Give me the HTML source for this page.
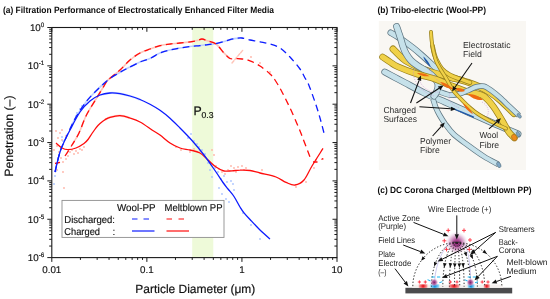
<!DOCTYPE html>
<html><head><meta charset="utf-8"><title>Filtration Performance of Electrostatically Enhanced Filter Media</title>
<style>
html,body{margin:0;padding:0;background:#fff;}
body{width:550px;height:299px;overflow:hidden;}
svg{display:block;}
text{font-family:"Liberation Sans",Arial,sans-serif;fill:#111;text-rendering:geometricPrecision;}
.b{font-weight:bold;font-size:9px;fill:#0d0d0d;}
.tk{font-size:9.8px;stroke:#111;stroke-width:0.15px;}
.sup{font-size:6.3px;}
.lab{font-size:12px;stroke:#111;stroke-width:0.18px;}
.lg{font-size:10px;stroke:#111;stroke-width:0.15px;}
.an{font-size:8.8px;fill:#222;}
</style></head><body>
<svg width="550" height="299" viewBox="0 0 550 299">
<rect width="550" height="299" fill="#fff"/>

<text class="b" x="3" y="12.8" textLength="271" lengthAdjust="spacingAndGlyphs">(a) Filtration Performance of Electrostatically Enhanced Filter Media</text>
<text class="b" x="377.5" y="12.8" textLength="108.5" lengthAdjust="spacingAndGlyphs">(b) Tribo-electric (Wool-PP)</text>
<text class="b" x="377.5" y="193" textLength="154" lengthAdjust="spacingAndGlyphs">(c) DC Corona Charged (Meltblown PP)</text>
<rect x="192.2" y="27.5" width="21.1" height="230.1" fill="#eefad9"/>
<g fill="none" stroke-linecap="round" stroke-linejoin="round">
<path d="M70.0,129.0 C71.0,127.0 73.3,121.5 76.0,117.0 C78.7,112.5 82.7,106.3 86.0,102.0 C89.3,97.7 92.3,94.7 96.0,91.0 C99.7,87.3 104.3,82.9 108.0,80.0 C111.7,77.1 115.0,75.3 118.0,73.5 C121.0,71.7 122.3,70.9 126.0,69.0 C129.7,67.1 136.0,63.8 140.0,62.0 C144.0,60.2 146.7,60.0 150.0,58.5 C153.3,57.0 156.7,54.4 160.0,53.0 C163.3,51.6 166.7,50.8 170.0,50.0 C173.3,49.2 176.7,48.6 180.0,48.0 C183.3,47.4 186.7,46.9 190.0,46.5 C193.3,46.1 197.0,45.9 200.0,45.6 C203.0,45.3 205.3,44.9 208.0,44.6 C210.7,44.3 213.3,44.1 216.0,43.6 C218.7,43.1 221.7,42.2 224.0,41.5 C226.3,40.8 228.0,40.1 230.0,39.6 C232.0,39.1 234.0,38.7 236.0,38.4 C238.0,38.1 241.0,38.1 242.0,38.0" stroke="#bcd0ff" stroke-width="1.6"/>
<path d="M72.0,145.0 C73.2,143.0 76.7,137.8 79.0,133.0 C81.3,128.2 83.2,121.7 86.0,116.0 C88.8,110.3 93.0,104.0 96.0,99.0 C99.0,94.0 102.0,89.2 104.0,86.0 C106.0,82.8 105.3,82.7 108.0,80.0 C110.7,77.3 116.3,73.3 120.0,70.0 C123.7,66.7 126.7,62.8 130.0,60.0 C133.3,57.2 136.7,54.8 140.0,53.0 C143.3,51.2 146.7,50.2 150.0,49.0 C153.3,47.8 156.7,46.4 160.0,45.6 C163.3,44.8 166.7,44.4 170.0,44.0 C173.3,43.6 176.3,43.4 180.0,43.0 C183.7,42.6 189.0,42.1 192.0,41.6 C195.0,41.1 196.3,40.7 198.0,40.3 C199.7,39.9 200.3,38.9 202.0,39.0 C203.7,39.1 205.7,40.2 208.0,41.0 C210.3,41.8 213.3,42.0 216.0,44.0 C218.7,46.0 221.7,50.6 224.0,53.0 C226.3,55.4 229.0,57.6 230.0,58.5" stroke="#ffc4b8" stroke-width="1.6"/>
<path d="M232,63 L237,57 L243,50" stroke="#ffc4b8" stroke-width="1.4" stroke-dasharray="3 1.5"/>
<path d="M100.0,95.0 C101.7,94.7 106.7,93.2 110.0,93.0 C113.3,92.8 116.7,93.1 120.0,93.6 C123.3,94.1 126.7,95.0 130.0,96.0 C133.3,97.0 138.3,98.9 140.0,99.5" stroke="#c6d6ff" stroke-width="2.2" opacity="0.8"/>
<path d="M105.0,119.7 C105.8,119.3 107.5,118.0 110.0,117.3 C112.5,116.6 116.7,115.5 120.0,115.6 C123.3,115.7 128.3,117.6 130.0,118.0" stroke="#ffc9c0" stroke-width="2.2" opacity="0.8"/>
</g>
<circle cx="56.0" cy="131.0" r="0.9" fill="#ffb3a6"/>
<circle cx="58.0" cy="138.0" r="0.9" fill="#ffb3a6"/>
<circle cx="60.0" cy="133.0" r="0.9" fill="#ffb3a6"/>
<circle cx="62.0" cy="130.0" r="0.9" fill="#ffb3a6"/>
<circle cx="57.0" cy="146.0" r="0.9" fill="#ffb3a6"/>
<circle cx="59.0" cy="152.0" r="0.9" fill="#ffb3a6"/>
<circle cx="61.0" cy="158.0" r="0.9" fill="#ffb3a6"/>
<circle cx="63.0" cy="162.0" r="0.9" fill="#ffb3a6"/>
<circle cx="66.0" cy="159.0" r="0.9" fill="#ffb3a6"/>
<circle cx="68.0" cy="156.0" r="0.9" fill="#ffb3a6"/>
<circle cx="70.0" cy="152.0" r="0.9" fill="#ffb3a6"/>
<circle cx="72.0" cy="150.0" r="0.9" fill="#ffb3a6"/>
<circle cx="74.0" cy="154.0" r="0.9" fill="#ffb3a6"/>
<circle cx="76.0" cy="151.0" r="0.9" fill="#ffb3a6"/>
<circle cx="78.0" cy="153.0" r="0.9" fill="#ffb3a6"/>
<circle cx="80.0" cy="149.0" r="0.9" fill="#ffb3a6"/>
<circle cx="82.0" cy="150.0" r="0.9" fill="#ffb3a6"/>
<circle cx="84.0" cy="147.0" r="0.9" fill="#ffb3a6"/>
<circle cx="63.0" cy="172.0" r="0.9" fill="#ffb3a6"/>
<circle cx="64.0" cy="188.0" r="0.9" fill="#ffb3a6"/>
<circle cx="54.0" cy="150.0" r="0.9" fill="#ffb3a6"/>
<circle cx="57.0" cy="170.0" r="0.9" fill="#ffb3a6"/>
<circle cx="62.0" cy="140.0" r="0.9" fill="#ffb3a6"/>
<circle cx="66.0" cy="136.0" r="0.9" fill="#ffb3a6"/>
<circle cx="176.0" cy="147.0" r="0.9" fill="#ffb3a6"/>
<circle cx="181.0" cy="150.0" r="0.9" fill="#ffb3a6"/>
<circle cx="190.0" cy="152.0" r="0.9" fill="#ffb3a6"/>
<circle cx="194.0" cy="149.0" r="0.9" fill="#ffb3a6"/>
<circle cx="200.0" cy="151.0" r="0.9" fill="#ffb3a6"/>
<circle cx="212.0" cy="150.0" r="0.9" fill="#ffb3a6"/>
<circle cx="214.0" cy="155.0" r="0.9" fill="#ffb3a6"/>
<circle cx="216.0" cy="166.0" r="0.9" fill="#ffb3a6"/>
<circle cx="219.0" cy="169.0" r="0.9" fill="#ffb3a6"/>
<circle cx="222.0" cy="172.0" r="0.9" fill="#ffb3a6"/>
<circle cx="225.0" cy="174.0" r="0.9" fill="#ffb3a6"/>
<circle cx="228.0" cy="170.0" r="0.9" fill="#ffb3a6"/>
<circle cx="231.0" cy="166.0" r="0.9" fill="#ffb3a6"/>
<circle cx="234.0" cy="168.0" r="0.9" fill="#ffb3a6"/>
<circle cx="238.0" cy="167.0" r="0.9" fill="#ffb3a6"/>
<circle cx="242.0" cy="166.0" r="0.9" fill="#ffb3a6"/>
<circle cx="246.0" cy="168.0" r="0.9" fill="#ffb3a6"/>
<circle cx="244.0" cy="170.0" r="0.9" fill="#ffb3a6"/>
<circle cx="236.0" cy="172.0" r="0.9" fill="#ffb3a6"/>
<circle cx="262.0" cy="170.0" r="0.9" fill="#ffb3a6"/>
<circle cx="296.0" cy="187.0" r="0.9" fill="#ffb3a6"/>
<circle cx="306.0" cy="182.0" r="0.9" fill="#ffb3a6"/>
<circle cx="314.0" cy="168.0" r="0.9" fill="#ffb3a6"/>
<circle cx="316.0" cy="160.0" r="0.9" fill="#ffb3a6"/>
<circle cx="323.0" cy="159.0" r="0.9" fill="#ffb3a6"/>
<circle cx="251.0" cy="57.0" r="0.9" fill="#ffb3a6"/>
<circle cx="260.0" cy="63.0" r="0.9" fill="#ffb3a6"/>
<circle cx="270.0" cy="72.0" r="0.9" fill="#ffb3a6"/>
<circle cx="54.0" cy="184.0" r="0.9" fill="#a9c3ff"/>
<circle cx="55.0" cy="176.0" r="0.9" fill="#a9c3ff"/>
<circle cx="56.0" cy="171.0" r="0.9" fill="#a9c3ff"/>
<circle cx="57.0" cy="164.0" r="0.9" fill="#a9c3ff"/>
<circle cx="58.0" cy="158.0" r="0.9" fill="#a9c3ff"/>
<circle cx="59.0" cy="155.0" r="0.9" fill="#a9c3ff"/>
<circle cx="61.0" cy="148.0" r="0.9" fill="#a9c3ff"/>
<circle cx="62.0" cy="137.0" r="0.9" fill="#a9c3ff"/>
<circle cx="63.0" cy="141.0" r="0.9" fill="#a9c3ff"/>
<circle cx="76.0" cy="116.0" r="0.9" fill="#a9c3ff"/>
<circle cx="77.0" cy="113.0" r="0.9" fill="#a9c3ff"/>
<circle cx="80.0" cy="109.0" r="0.9" fill="#a9c3ff"/>
<circle cx="82.0" cy="106.0" r="0.9" fill="#a9c3ff"/>
<circle cx="188.0" cy="138.0" r="0.9" fill="#a9c3ff"/>
<circle cx="191.0" cy="134.0" r="0.9" fill="#a9c3ff"/>
<circle cx="194.0" cy="141.0" r="0.9" fill="#a9c3ff"/>
<circle cx="197.0" cy="144.0" r="0.9" fill="#a9c3ff"/>
<circle cx="199.0" cy="147.0" r="0.9" fill="#a9c3ff"/>
<circle cx="202.0" cy="150.0" r="0.9" fill="#a9c3ff"/>
<circle cx="205.0" cy="154.0" r="0.9" fill="#a9c3ff"/>
<circle cx="208.0" cy="163.0" r="0.9" fill="#a9c3ff"/>
<circle cx="210.0" cy="170.0" r="0.9" fill="#a9c3ff"/>
<circle cx="212.0" cy="177.0" r="0.9" fill="#a9c3ff"/>
<circle cx="215.0" cy="168.0" r="0.9" fill="#a9c3ff"/>
<circle cx="218.0" cy="172.0" r="0.9" fill="#a9c3ff"/>
<circle cx="221.0" cy="179.0" r="0.9" fill="#a9c3ff"/>
<circle cx="224.0" cy="176.0" r="0.9" fill="#a9c3ff"/>
<circle cx="227.0" cy="182.0" r="0.9" fill="#a9c3ff"/>
<circle cx="231.0" cy="181.0" r="0.9" fill="#a9c3ff"/>
<circle cx="233.0" cy="184.0" r="0.9" fill="#a9c3ff"/>
<circle cx="219.0" cy="188.0" r="0.9" fill="#a9c3ff"/>
<circle cx="222.0" cy="194.0" r="0.9" fill="#a9c3ff"/>
<circle cx="226.0" cy="199.0" r="0.9" fill="#a9c3ff"/>
<circle cx="229.0" cy="202.0" r="0.9" fill="#a9c3ff"/>
<circle cx="243.0" cy="213.0" r="0.9" fill="#a9c3ff"/>
<circle cx="251.0" cy="225.0" r="0.9" fill="#a9c3ff"/>
<circle cx="260.0" cy="239.0" r="0.9" fill="#a9c3ff"/>
<circle cx="234.0" cy="190.0" r="0.9" fill="#a9c3ff"/>
<g fill="none" stroke-linejoin="round">
<path d="M65.0,156.0 C66.2,154.2 69.7,148.8 72.0,145.0 C74.3,141.2 76.7,137.8 79.0,133.0 C81.3,128.2 83.2,121.7 86.0,116.0 C88.8,110.3 93.0,104.0 96.0,99.0 C99.0,94.0 102.0,89.2 104.0,86.0 C106.0,82.8 105.3,82.7 108.0,80.0 C110.7,77.3 116.3,73.3 120.0,70.0 C123.7,66.7 126.7,62.8 130.0,60.0 C133.3,57.2 136.7,54.8 140.0,53.0 C143.3,51.2 146.7,50.2 150.0,49.0 C153.3,47.8 156.7,46.4 160.0,45.6 C163.3,44.8 166.7,44.4 170.0,44.0 C173.3,43.6 176.3,43.4 180.0,43.0 C183.7,42.6 189.0,42.1 192.0,41.6 C195.0,41.1 196.3,40.7 198.0,40.3 C199.7,39.9 200.3,38.9 202.0,39.0 C203.7,39.1 205.7,40.2 208.0,41.0 C210.3,41.8 213.3,42.0 216.0,44.0 C218.7,46.0 221.7,50.6 224.0,53.0 C226.3,55.4 228.0,57.6 230.0,58.5 C232.0,59.4 234.0,58.5 236.0,58.6 C238.0,58.7 239.7,58.6 242.0,59.0 C244.3,59.4 247.0,59.6 250.0,60.8 C253.0,62.0 256.7,63.8 260.0,66.0 C263.3,68.2 267.5,71.7 270.0,74.0 C272.5,76.3 273.0,77.0 275.0,80.0 C277.0,83.0 279.5,87.3 282.0,92.0 C284.5,96.7 287.3,102.3 290.0,108.0 C292.7,113.7 296.0,121.3 298.0,126.0 C300.0,130.7 300.0,130.8 302.0,136.0 C304.0,141.2 308.7,153.5 310.0,157.0" stroke="#ff0c0c" stroke-width="1.3" stroke-dasharray="6.8 4.4"/>
<path d="M55,163.5 L60,162.3 M313,162 L317.5,162 M321.5,159.5 L323,158.5" stroke="#ff0c0c" stroke-width="1.3"/>
<path d="M55.0,172.0 C55.8,168.7 58.3,157.3 60.0,152.0 C61.7,146.7 63.3,143.8 65.0,140.0 C66.7,136.2 68.2,132.8 70.0,129.0 C71.8,125.2 73.3,121.5 76.0,117.0 C78.7,112.5 82.7,106.3 86.0,102.0 C89.3,97.7 92.3,94.7 96.0,91.0 C99.7,87.3 104.3,82.9 108.0,80.0 C111.7,77.1 115.0,75.3 118.0,73.5 C121.0,71.7 122.3,70.9 126.0,69.0 C129.7,67.1 136.0,63.8 140.0,62.0 C144.0,60.2 146.7,60.0 150.0,58.5 C153.3,57.0 156.7,54.4 160.0,53.0 C163.3,51.6 166.7,50.8 170.0,50.0 C173.3,49.2 176.7,48.6 180.0,48.0 C183.3,47.4 186.7,46.9 190.0,46.5 C193.3,46.1 197.0,45.9 200.0,45.6 C203.0,45.3 205.3,44.9 208.0,44.6 C210.7,44.3 213.3,44.1 216.0,43.6 C218.7,43.1 221.7,42.2 224.0,41.5 C226.3,40.8 228.0,40.1 230.0,39.6 C232.0,39.1 234.0,38.7 236.0,38.4 C238.0,38.1 239.7,37.7 242.0,38.0 C244.3,38.3 247.0,39.4 250.0,40.0 C253.0,40.6 256.7,41.1 260.0,41.8 C263.3,42.5 266.7,43.0 270.0,44.0 C273.3,45.0 276.7,45.8 280.0,48.0 C283.3,50.2 286.7,53.5 290.0,57.0 C293.3,60.5 297.5,65.5 300.0,69.0 C302.5,72.5 303.7,75.7 305.0,78.0 C306.3,80.3 306.3,79.0 308.0,83.0 C309.7,87.0 313.0,96.2 315.0,102.0 C317.0,107.8 318.5,112.8 320.0,118.0 C321.5,123.2 323.3,130.5 324.0,133.0" stroke="#0c1cff" stroke-width="1.3" stroke-dasharray="6.8 4.4"/>
<path d="M56.0,143.0 C57.0,143.8 60.0,146.9 62.0,148.0 C64.0,149.1 65.7,149.6 68.0,149.6 C70.3,149.6 73.3,149.0 76.0,148.0 C78.7,147.0 82.0,144.9 84.0,143.5 C86.0,142.1 86.7,141.2 88.0,139.5 C89.3,137.8 90.7,135.4 92.0,133.5 C93.3,131.6 94.7,129.5 96.0,127.8 C97.3,126.1 98.5,124.8 100.0,123.5 C101.5,122.2 103.3,120.7 105.0,119.7 C106.7,118.7 107.5,118.0 110.0,117.3 C112.5,116.6 116.7,115.5 120.0,115.6 C123.3,115.7 126.7,116.9 130.0,118.0 C133.3,119.1 136.3,120.0 140.0,122.0 C143.7,124.0 148.7,127.8 152.0,130.0 C155.3,132.2 157.0,132.8 160.0,135.0 C163.0,137.2 166.7,140.8 170.0,143.0 C173.3,145.2 176.7,146.8 180.0,148.0 C183.3,149.2 186.7,149.2 190.0,150.0 C193.3,150.8 197.0,151.3 200.0,153.0 C203.0,154.7 205.3,157.7 208.0,160.0 C210.7,162.3 213.3,165.2 216.0,167.0 C218.7,168.8 221.3,170.4 224.0,171.0 C226.7,171.6 229.3,170.9 232.0,170.8 C234.7,170.7 237.0,170.2 240.0,170.2 C243.0,170.1 246.7,170.0 250.0,170.5 C253.3,171.0 255.7,171.9 260.0,173.0 C264.3,174.1 271.7,175.4 276.0,177.0 C280.3,178.6 282.8,181.1 286.0,182.4 C289.2,183.7 292.0,185.4 295.0,185.0 C298.0,184.6 301.2,183.2 304.0,180.0 C306.8,176.8 308.8,171.3 312.0,166.0 C315.2,160.7 321.2,151.3 323.0,148.4" stroke="#ff0c0c" stroke-width="1.3"/>
<path d="M55.0,172.0 C55.8,168.7 58.3,157.3 60.0,152.0 C61.7,146.7 63.3,143.7 65.0,140.0 C66.7,136.3 67.5,134.7 70.0,130.0 C72.5,125.3 76.7,116.8 80.0,112.0 C83.3,107.2 86.7,103.8 90.0,101.0 C93.3,98.2 96.7,96.3 100.0,95.0 C103.3,93.7 106.7,93.2 110.0,93.0 C113.3,92.8 116.7,93.1 120.0,93.6 C123.3,94.1 126.7,95.0 130.0,96.0 C133.3,97.0 136.7,98.1 140.0,99.5 C143.3,100.9 146.7,102.5 150.0,104.3 C153.3,106.1 156.7,108.0 160.0,110.3 C163.3,112.6 166.7,115.3 170.0,118.3 C173.3,121.2 176.3,124.3 180.0,128.0 C183.7,131.7 188.0,136.0 192.0,140.5 C196.0,145.0 200.0,149.8 204.0,155.0 C208.0,160.2 212.8,167.4 216.0,172.0 C219.2,176.6 221.0,179.7 223.0,182.5 C225.0,185.3 226.2,186.7 228.0,189.0 C229.8,191.3 232.0,193.5 234.0,196.5 C236.0,199.5 238.3,204.3 240.0,207.0 C241.7,209.7 242.3,210.7 244.0,212.8 C245.7,214.9 247.3,216.6 250.0,219.5 C252.7,222.4 256.7,226.8 260.0,230.0 C263.3,233.2 268.3,237.5 270.0,239.0" stroke="#0c1cff" stroke-width="1.3"/>
</g>
<rect x="62" y="200.4" width="162" height="37" fill="#fff" stroke="#8e8e8e" stroke-width="0.9"/>
<text class="lg" x="117" y="210.9" textLength="38.5" lengthAdjust="spacingAndGlyphs">Wool-PP</text>
<text class="lg" x="164.5" y="210.9" textLength="58" lengthAdjust="spacingAndGlyphs">Meltblown PP</text>
<text class="lg" x="64.3" y="223" textLength="50.7" lengthAdjust="spacingAndGlyphs">Discharged:</text>
<text class="lg" x="64.3" y="235.1" textLength="35.7" lengthAdjust="spacingAndGlyphs">Charged</text>
<text class="lg" x="112.4" y="235.1">:</text>
<path d="M132,219 h5.5 M143.5,219 h5.5" stroke="#0c1cff" stroke-width="1.2" fill="none"/>
<path d="M166.5,219 h5.5 M178.5,219 h5.5" stroke="#ff0c0c" stroke-width="1.2" fill="none"/>
<path d="M132,231 h22.5" stroke="#0c1cff" stroke-width="1.2" fill="none"/>
<path d="M166.5,231 h22.5" stroke="#ff0c0c" stroke-width="1.2" fill="none"/>
<text x="193.6" y="115" style="font-size:12.3px;stroke:#111;stroke-width:0.25px">P<tspan dy="3.2" dx="-0.3" style="font-size:8.6px;stroke-width:0.2px">0.3</tspan></text>
<g stroke="#1a1a1a" fill="none">
<rect x="51.8" y="27.5" width="285.2" height="230.1" stroke-width="1.1"/>
<path d="M51.80,257.60 v4.3 M51.80,27.50 v4.3 M80.42,257.60 v2.3 M80.42,27.50 v2.3 M97.16,257.60 v2.3 M97.16,27.50 v2.3 M109.04,257.60 v2.3 M109.04,27.50 v2.3 M118.25,257.60 v2.3 M118.25,27.50 v2.3 M125.78,257.60 v2.3 M125.78,27.50 v2.3 M132.14,257.60 v2.3 M132.14,27.50 v2.3 M137.65,257.60 v2.3 M137.65,27.50 v2.3 M142.52,257.60 v2.3 M142.52,27.50 v2.3 M146.87,257.60 v4.3 M146.87,27.50 v4.3 M175.48,257.60 v2.3 M175.48,27.50 v2.3 M192.22,257.60 v2.3 M192.22,27.50 v2.3 M204.10,257.60 v2.3 M204.10,27.50 v2.3 M213.32,257.60 v2.3 M213.32,27.50 v2.3 M220.84,257.60 v2.3 M220.84,27.50 v2.3 M227.21,257.60 v2.3 M227.21,27.50 v2.3 M232.72,257.60 v2.3 M232.72,27.50 v2.3 M237.58,257.60 v2.3 M237.58,27.50 v2.3 M241.93,257.60 v4.3 M241.93,27.50 v4.3 M270.55,257.60 v2.3 M270.55,27.50 v2.3 M287.29,257.60 v2.3 M287.29,27.50 v2.3 M299.17,257.60 v2.3 M299.17,27.50 v2.3 M308.38,257.60 v2.3 M308.38,27.50 v2.3 M315.91,257.60 v2.3 M315.91,27.50 v2.3 M322.27,257.60 v2.3 M322.27,27.50 v2.3 M327.79,257.60 v2.3 M327.79,27.50 v2.3 M332.65,257.60 v2.3 M332.65,27.50 v2.3 M337.00,257.60 v4.3 M337.00,27.50 v4.3 M51.80,65.85 h-4.5 M337.00,65.85 h-4.5 M51.80,54.31 h-2.6 M337.00,54.31 h-2.6 M51.80,47.55 h-2.6 M337.00,47.55 h-2.6 M51.80,42.76 h-2.6 M337.00,42.76 h-2.6 M51.80,39.04 h-2.6 M337.00,39.04 h-2.6 M51.80,36.01 h-2.6 M337.00,36.01 h-2.6 M51.80,33.44 h-2.6 M337.00,33.44 h-2.6 M51.80,31.22 h-2.6 M337.00,31.22 h-2.6 M51.80,29.25 h-2.6 M337.00,29.25 h-2.6 M51.80,104.20 h-4.5 M337.00,104.20 h-4.5 M51.80,92.66 h-2.6 M337.00,92.66 h-2.6 M51.80,85.90 h-2.6 M337.00,85.90 h-2.6 M51.80,81.11 h-2.6 M337.00,81.11 h-2.6 M51.80,77.39 h-2.6 M337.00,77.39 h-2.6 M51.80,74.36 h-2.6 M337.00,74.36 h-2.6 M51.80,71.79 h-2.6 M337.00,71.79 h-2.6 M51.80,69.57 h-2.6 M337.00,69.57 h-2.6 M51.80,67.60 h-2.6 M337.00,67.60 h-2.6 M51.80,142.55 h-4.5 M337.00,142.55 h-4.5 M51.80,131.01 h-2.6 M337.00,131.01 h-2.6 M51.80,124.25 h-2.6 M337.00,124.25 h-2.6 M51.80,119.46 h-2.6 M337.00,119.46 h-2.6 M51.80,115.74 h-2.6 M337.00,115.74 h-2.6 M51.80,112.71 h-2.6 M337.00,112.71 h-2.6 M51.80,110.14 h-2.6 M337.00,110.14 h-2.6 M51.80,107.92 h-2.6 M337.00,107.92 h-2.6 M51.80,105.95 h-2.6 M337.00,105.95 h-2.6 M51.80,180.90 h-4.5 M337.00,180.90 h-4.5 M51.80,169.36 h-2.6 M337.00,169.36 h-2.6 M51.80,162.60 h-2.6 M337.00,162.60 h-2.6 M51.80,157.81 h-2.6 M337.00,157.81 h-2.6 M51.80,154.09 h-2.6 M337.00,154.09 h-2.6 M51.80,151.06 h-2.6 M337.00,151.06 h-2.6 M51.80,148.49 h-2.6 M337.00,148.49 h-2.6 M51.80,146.27 h-2.6 M337.00,146.27 h-2.6 M51.80,144.30 h-2.6 M337.00,144.30 h-2.6 M51.80,219.25 h-4.5 M337.00,219.25 h-4.5 M51.80,207.71 h-2.6 M337.00,207.71 h-2.6 M51.80,200.95 h-2.6 M337.00,200.95 h-2.6 M51.80,196.16 h-2.6 M337.00,196.16 h-2.6 M51.80,192.44 h-2.6 M337.00,192.44 h-2.6 M51.80,189.41 h-2.6 M337.00,189.41 h-2.6 M51.80,186.84 h-2.6 M337.00,186.84 h-2.6 M51.80,184.62 h-2.6 M337.00,184.62 h-2.6 M51.80,182.65 h-2.6 M337.00,182.65 h-2.6 M51.80,257.60 h-4.5 M337.00,257.60 h-4.5 M51.80,246.06 h-2.6 M337.00,246.06 h-2.6 M51.80,239.30 h-2.6 M337.00,239.30 h-2.6 M51.80,234.51 h-2.6 M337.00,234.51 h-2.6 M51.80,230.79 h-2.6 M337.00,230.79 h-2.6 M51.80,227.76 h-2.6 M337.00,227.76 h-2.6 M51.80,225.19 h-2.6 M337.00,225.19 h-2.6 M51.80,222.97 h-2.6 M337.00,222.97 h-2.6 M51.80,221.00 h-2.6 M337.00,221.00 h-2.6 M51.80,27.50 h-4.5 M337.00,27.50 h-4.5" stroke-width="1"/>
</g>
<text class="tk" x="44.3" y="31.0" text-anchor="end">10<tspan class="sup" dy="-4">0</tspan></text>
<text class="tk" x="44.3" y="69.3" text-anchor="end">10<tspan class="sup" dy="-4">-1</tspan></text>
<text class="tk" x="44.3" y="107.7" text-anchor="end">10<tspan class="sup" dy="-4">-2</tspan></text>
<text class="tk" x="44.3" y="146.1" text-anchor="end">10<tspan class="sup" dy="-4">-3</tspan></text>
<text class="tk" x="44.3" y="184.4" text-anchor="end">10<tspan class="sup" dy="-4">-4</tspan></text>
<text class="tk" x="44.3" y="222.8" text-anchor="end">10<tspan class="sup" dy="-4">-5</tspan></text>
<text class="tk" x="44.3" y="261.1" text-anchor="end">10<tspan class="sup" dy="-4">-6</tspan></text>
<text class="tk" x="51.8" y="273" text-anchor="middle">0.01</text>
<text class="tk" x="146.9" y="273" text-anchor="middle">0.1</text>
<text class="tk" x="241.9" y="273" text-anchor="middle">1</text>
<text class="tk" x="337.0" y="273" text-anchor="middle">10</text>
<text class="lab" x="135.3" y="292.6" textLength="120" lengthAdjust="spacingAndGlyphs">Particle Diameter (μm)</text>
<text class="lab" transform="translate(12.5,176.8) rotate(-90)" textLength="81.3" lengthAdjust="spacingAndGlyphs">Penetration (–)</text>
<g id="panelb">
<rect x="378.8" y="21" width="147.2" height="149" fill="#f9f7f3"/>
<clipPath id="cb"><rect x="378.8" y="21" width="147.2" height="149"/></clipPath>
<g clip-path="url(#cb)">
<path d="M384.8,72.0 C386.5,72.9 391.6,75.7 395.0,77.5 C398.4,79.3 400.5,80.4 405.4,83.0 C410.3,85.6 417.9,89.8 424.5,93.0 C431.1,96.2 437.4,98.7 445.0,102.0 C452.6,105.3 461.7,109.3 470.0,113.0 C478.3,116.7 487.0,120.5 495.0,124.0 C503.0,127.5 514.2,132.3 518.0,134.0" fill="none" stroke="#5f7682" stroke-width="6.9" stroke-linecap="round" stroke-linejoin="round"/><path d="M384.8,72.0 C386.5,72.9 391.6,75.7 395.0,77.5 C398.4,79.3 400.5,80.4 405.4,83.0 C410.3,85.6 417.9,89.8 424.5,93.0 C431.1,96.2 437.4,98.7 445.0,102.0 C452.6,105.3 461.7,109.3 470.0,113.0 C478.3,116.7 487.0,120.5 495.0,124.0 C503.0,127.5 514.2,132.3 518.0,134.0" fill="none" stroke="#c6e1ea" stroke-width="5.4" stroke-linecap="round" stroke-linejoin="round"/>
<path d="M433.0,99.0 C433.5,100.5 434.9,105.3 436.0,108.0 C437.1,110.7 438.0,112.4 439.5,115.0 C441.0,117.6 442.6,120.3 445.0,123.6 C447.4,126.9 450.0,130.9 454.0,134.6 C458.0,138.3 464.0,142.3 469.0,146.0 C474.0,149.7 479.1,153.4 484.0,156.5 C488.9,159.6 496.1,163.2 498.5,164.6" fill="none" stroke="#5f7682" stroke-width="5.6" stroke-linecap="butt" stroke-linejoin="round"/><path d="M433.0,99.0 C433.5,100.5 434.9,105.3 436.0,108.0 C437.1,110.7 438.0,112.4 439.5,115.0 C441.0,117.6 442.6,120.3 445.0,123.6 C447.4,126.9 450.0,130.9 454.0,134.6 C458.0,138.3 464.0,142.3 469.0,146.0 C474.0,149.7 479.1,153.4 484.0,156.5 C488.9,159.6 496.1,163.2 498.5,164.6" fill="none" stroke="#c6e1ea" stroke-width="4.1" stroke-linecap="butt" stroke-linejoin="round"/>
<ellipse cx="498.8" cy="164.8" rx="1.9" ry="3.0" transform="rotate(-25 498.8 164.8)" fill="#7ea6c4" stroke="#5f7682" stroke-width="0.6"/>
<path d="M390.7,32.7 C391.9,33.4 395.6,35.5 398.0,37.0 C400.4,38.5 402.5,40.0 405.0,41.8 C407.5,43.6 410.3,45.7 413.0,47.8 C415.7,49.9 417.8,51.7 421.0,54.5 C424.2,57.3 428.7,61.4 432.0,64.5 C435.3,67.6 438.5,70.1 441.0,73.0 C443.5,75.9 446.0,80.5 447.0,82.0" fill="none" stroke="#5f7682" stroke-width="6.4" stroke-linecap="round" stroke-linejoin="round"/><path d="M390.7,32.7 C391.9,33.4 395.6,35.5 398.0,37.0 C400.4,38.5 402.5,40.0 405.0,41.8 C407.5,43.6 410.3,45.7 413.0,47.8 C415.7,49.9 417.8,51.7 421.0,54.5 C424.2,57.3 428.7,61.4 432.0,64.5 C435.3,67.6 438.5,70.1 441.0,73.0 C443.5,75.9 446.0,80.5 447.0,82.0" fill="none" stroke="#c6e1ea" stroke-width="4.9" stroke-linecap="round" stroke-linejoin="round"/>
<path d="M393.0,49.0 C394.0,50.0 396.9,53.1 399.0,55.0 C401.1,56.9 401.9,58.4 405.4,60.6 C408.9,62.8 415.1,65.9 420.0,68.0 C424.9,70.1 429.7,71.6 435.0,73.2 C440.3,74.8 446.5,76.3 452.0,77.8 C457.5,79.3 463.3,80.8 468.0,82.3 C472.7,83.8 476.3,85.3 480.0,87.0 C483.7,88.7 486.7,90.3 490.0,92.5 C493.3,94.7 496.8,97.3 500.0,100.0 C503.2,102.7 506.7,106.2 509.0,108.5 C511.3,110.8 513.2,112.7 514.0,113.5" fill="none" stroke="#98801c" stroke-width="6.9" stroke-linecap="round" stroke-linejoin="round"/><path d="M393.0,49.0 C394.0,50.0 396.9,53.1 399.0,55.0 C401.1,56.9 401.9,58.4 405.4,60.6 C408.9,62.8 415.1,65.9 420.0,68.0 C424.9,70.1 429.7,71.6 435.0,73.2 C440.3,74.8 446.5,76.3 452.0,77.8 C457.5,79.3 463.3,80.8 468.0,82.3 C472.7,83.8 476.3,85.3 480.0,87.0 C483.7,88.7 486.7,90.3 490.0,92.5 C493.3,94.7 496.8,97.3 500.0,100.0 C503.2,102.7 506.7,106.2 509.0,108.5 C511.3,110.8 513.2,112.7 514.0,113.5" fill="none" stroke="#f0d148" stroke-width="5.4" stroke-linecap="round" stroke-linejoin="round"/>
<path d="M396.6,26.5 C396.9,27.4 397.9,30.1 398.5,32.0 C399.1,33.9 399.8,35.7 400.5,38.0 C401.2,40.3 401.9,43.4 402.8,46.0 C403.7,48.6 404.6,51.1 406.0,53.5 C407.4,55.9 409.0,58.4 411.0,60.5 C413.0,62.6 415.3,64.2 418.0,66.0 C420.7,67.8 424.3,69.6 427.0,71.5 C429.7,73.4 432.2,75.4 434.0,77.5 C435.8,79.6 437.5,81.8 438.0,84.0 C438.5,86.2 437.7,89.0 437.0,91.0 C436.3,93.0 434.5,95.2 434.0,96.0" fill="none" stroke="#5f7682" stroke-width="7.0" stroke-linecap="round" stroke-linejoin="round"/><path d="M396.6,26.5 C396.9,27.4 397.9,30.1 398.5,32.0 C399.1,33.9 399.8,35.7 400.5,38.0 C401.2,40.3 401.9,43.4 402.8,46.0 C403.7,48.6 404.6,51.1 406.0,53.5 C407.4,55.9 409.0,58.4 411.0,60.5 C413.0,62.6 415.3,64.2 418.0,66.0 C420.7,67.8 424.3,69.6 427.0,71.5 C429.7,73.4 432.2,75.4 434.0,77.5 C435.8,79.6 437.5,81.8 438.0,84.0 C438.5,86.2 437.7,89.0 437.0,91.0 C436.3,93.0 434.5,95.2 434.0,96.0" fill="none" stroke="#c6e1ea" stroke-width="5.5" stroke-linecap="round" stroke-linejoin="round"/>
<path d="M382.6,57.0 C383.8,57.8 387.4,60.4 390.0,62.0 C392.6,63.6 393.5,64.8 398.0,66.8 C402.5,68.8 410.8,72.0 417.0,74.0 C423.2,76.0 429.6,77.2 435.0,79.0 C440.4,80.8 444.5,83.0 449.5,85.0 C454.5,87.0 460.6,89.6 465.0,91.0 C469.4,92.4 472.8,92.6 476.0,93.5 C479.2,94.4 481.1,94.2 484.0,96.4 C486.9,98.6 490.5,102.7 493.5,106.7 C496.5,110.7 499.5,116.1 502.0,120.3 C504.5,124.5 506.6,128.8 508.6,131.7 C510.7,134.6 513.3,136.8 514.3,137.8" fill="none" stroke="#98801c" stroke-width="6.7" stroke-linecap="round" stroke-linejoin="round"/><path d="M382.6,57.0 C383.8,57.8 387.4,60.4 390.0,62.0 C392.6,63.6 393.5,64.8 398.0,66.8 C402.5,68.8 410.8,72.0 417.0,74.0 C423.2,76.0 429.6,77.2 435.0,79.0 C440.4,80.8 444.5,83.0 449.5,85.0 C454.5,87.0 460.6,89.6 465.0,91.0 C469.4,92.4 472.8,92.6 476.0,93.5 C479.2,94.4 481.1,94.2 484.0,96.4 C486.9,98.6 490.5,102.7 493.5,106.7 C496.5,110.7 499.5,116.1 502.0,120.3 C504.5,124.5 506.6,128.8 508.6,131.7 C510.7,134.6 513.3,136.8 514.3,137.8" fill="none" stroke="#f0d148" stroke-width="5.2" stroke-linecap="round" stroke-linejoin="round"/>
<ellipse cx="514.3" cy="137.6" rx="2.5" ry="3.4" transform="rotate(-28 514.3 137.6)" fill="#ee8a1a" stroke="#a8741c" stroke-width="0.7"/>
<path d="M423.3,56.5 C426,58.5 429.5,63 430.8,67 C428,65 424.5,61 423.3,56.5Z" fill="#1e56a8"/>
<path d="M440.0,92.0 C441.7,92.5 446.8,94.7 450.0,95.0 C453.2,95.3 456.0,94.8 459.0,94.0 C462.0,93.2 465.1,91.7 468.0,90.5 C470.9,89.3 473.8,87.5 476.5,86.8 C479.2,86.1 481.4,85.5 484.0,86.2 C486.6,86.9 489.3,89.1 492.0,91.0 C494.7,92.9 497.0,94.9 500.0,97.6 C503.0,100.3 506.8,104.0 510.0,107.0 C513.2,110.0 517.5,114.1 519.0,115.5" fill="none" stroke="#5f7682" stroke-width="5.6" stroke-linecap="butt" stroke-linejoin="round"/><path d="M440.0,92.0 C441.7,92.5 446.8,94.7 450.0,95.0 C453.2,95.3 456.0,94.8 459.0,94.0 C462.0,93.2 465.1,91.7 468.0,90.5 C470.9,89.3 473.8,87.5 476.5,86.8 C479.2,86.1 481.4,85.5 484.0,86.2 C486.6,86.9 489.3,89.1 492.0,91.0 C494.7,92.9 497.0,94.9 500.0,97.6 C503.0,100.3 506.8,104.0 510.0,107.0 C513.2,110.0 517.5,114.1 519.0,115.5" fill="none" stroke="#c6e1ea" stroke-width="4.1" stroke-linecap="butt" stroke-linejoin="round"/>
<ellipse cx="519.2" cy="115.8" rx="1.6" ry="2.7" transform="rotate(-40 519.2 115.8)" fill="#7ea6c4" stroke="#5f7682" stroke-width="0.6"/>
<ellipse cx="518.2" cy="134.2" rx="1.6" ry="2.9" transform="rotate(-25 518.2 134.2)" fill="#7ea6c4" stroke="#5f7682" stroke-width="0.6"/>
<path d="M432.5,46.0 C432.8,47.2 433.3,50.7 434.0,53.0 C434.7,55.3 435.2,57.3 436.5,60.0 C437.8,62.7 439.8,66.5 442.0,69.0 C444.2,71.5 447.0,73.3 450.0,75.0 C453.0,76.7 456.7,77.8 460.0,79.0 C463.3,80.2 468.3,81.9 470.0,82.5" fill="none" stroke="#98801c" stroke-width="4.7" stroke-linecap="round" stroke-linejoin="round"/><path d="M432.5,46.0 C432.8,47.2 433.3,50.7 434.0,53.0 C434.7,55.3 435.2,57.3 436.5,60.0 C437.8,62.7 439.8,66.5 442.0,69.0 C444.2,71.5 447.0,73.3 450.0,75.0 C453.0,76.7 456.7,77.8 460.0,79.0 C463.3,80.2 468.3,81.9 470.0,82.5" fill="none" stroke="#f0d148" stroke-width="3.2" stroke-linecap="round" stroke-linejoin="round"/>
<path d="M431.0,32.0 C431.1,33.3 431.3,37.3 431.6,40.0 C431.9,42.7 432.1,44.6 432.8,48.0 C433.5,51.4 434.6,56.9 436.0,60.6 C437.4,64.3 439.2,66.9 441.0,70.0 C442.8,73.1 444.9,76.1 446.8,79.4 C448.7,82.7 450.6,86.8 452.6,89.7 C454.6,92.6 456.4,94.3 459.0,97.0 C461.6,99.7 464.8,103.2 468.0,106.0 C471.2,108.8 473.7,111.2 478.0,114.0 C482.3,116.8 489.3,120.6 494.0,123.0 C498.7,125.4 504.0,127.6 506.0,128.5" fill="none" stroke="#98801c" stroke-width="3.9" stroke-linecap="round" stroke-linejoin="round"/><path d="M431.0,32.0 C431.1,33.3 431.3,37.3 431.6,40.0 C431.9,42.7 432.1,44.6 432.8,48.0 C433.5,51.4 434.6,56.9 436.0,60.6 C437.4,64.3 439.2,66.9 441.0,70.0 C442.8,73.1 444.9,76.1 446.8,79.4 C448.7,82.7 450.6,86.8 452.6,89.7 C454.6,92.6 456.4,94.3 459.0,97.0 C461.6,99.7 464.8,103.2 468.0,106.0 C471.2,108.8 473.7,111.2 478.0,114.0 C482.3,116.8 489.3,120.6 494.0,123.0 C498.7,125.4 504.0,127.6 506.0,128.5" fill="none" stroke="#f0d148" stroke-width="2.4" stroke-linecap="round" stroke-linejoin="round"/>
<path d="M417,73.2 C421,72.6 426,74 429.5,76.2 C425,76.8 420,75.6 417,73.2Z" fill="#ef6a10"/>
<path d="M440,82 C445,82.6 450,85.5 453.5,89.5 C448,88.6 443,86 440,82Z" fill="#ef6a10"/>
<path d="M455,88.5 C459,87.2 463,88.6 465,91 C461,92.4 457,91.4 455,88.5Z" fill="#ef6a10"/>
<path d="M468,94 C473,93.5 480,96.5 483,100 C477,100.6 471,98 468,94Z" fill="#ef6a10"/>
<path d="M463,103 C467,105.5 471,110 473,114 C468.5,112 464.5,107.5 463,103Z" fill="#ef6a10"/>
<path d="M452,108 C458,110.5 466,114 474,117.3" stroke="#1e56a8" stroke-width="1.3" fill="none"/>
<g fill="none" stroke="#c48ad0" stroke-width="0.6" stroke-dasharray="1 1.3">
<path d="M414,70 C411,78 420,92 434,96"/>
<path d="M419,78 C421,88 430,93 440,92"/>
<path d="M450,93 C447,100 452,106 460,108"/>
<path d="M482,102 C489,106 490,113 486,118"/>
<path d="M428,68 C432,74 436,80 442,84"/>
</g>
</g>
<path d="M472.0,63.0 L455.0,87.2" stroke="#111" stroke-width="1.1" fill="none"/><path d="M452.0,91.5 L453.2,86.0 L456.8,88.5 Z" fill="#111"/>
<path d="M410.5,103.0 L419.1,80.4" stroke="#111" stroke-width="1.1" fill="none"/><path d="M421.0,75.5 L421.2,81.1 L417.1,79.6 Z" fill="#111"/>
<path d="M416.4,103.0 L439.1,88.3" stroke="#111" stroke-width="1.1" fill="none"/><path d="M443.5,85.5 L440.3,90.2 L437.9,86.5 Z" fill="#111"/>
<path d="M419.4,106.7 L450.8,108.8" stroke="#111" stroke-width="1.1" fill="none"/><path d="M456.0,109.2 L450.7,111.0 L451.0,106.7 Z" fill="#111"/>
<path d="M432.6,136.0 L441.3,126.4" stroke="#111" stroke-width="1.1" fill="none"/><path d="M444.8,122.5 L442.9,127.8 L439.7,124.9 Z" fill="#111"/>
<path d="M489.0,128.8 L497.1,121.7" stroke="#111" stroke-width="1.1" fill="none"/><path d="M501.0,118.3 L498.5,123.4 L495.6,120.1 Z" fill="#111"/>
<text x="463" y="47.8" style="font-size:8.7px;fill:#2b2b2b" textLength="47.5" lengthAdjust="spacingAndGlyphs">Electrostatic</text>
<text x="463" y="57" style="font-size:8.7px;fill:#2b2b2b">Field</text>
<text x="383.4" y="112.6" style="font-size:8.7px;fill:#2b2b2b" textLength="32.6" lengthAdjust="spacingAndGlyphs">Charged</text>
<text x="383.4" y="122.1" style="font-size:8.7px;fill:#2b2b2b" textLength="33.5" lengthAdjust="spacingAndGlyphs">Surfaces</text>
<text x="420" y="143.5" style="font-size:8.7px;fill:#2b2b2b" textLength="31" lengthAdjust="spacingAndGlyphs">Polymer</text>
<text x="420" y="153.2" style="font-size:8.7px;fill:#2b2b2b">Fibre</text>
<text x="479.4" y="138" style="font-size:8.7px;fill:#2b2b2b" textLength="18.8" lengthAdjust="spacingAndGlyphs">Wool</text>
<text x="479.4" y="147.6" style="font-size:8.7px;fill:#2b2b2b">Fibre</text>
</g>
<g id="panelc">
<defs><radialGradient id="glow"><stop offset="0" stop-color="#8a1f6e"/><stop offset="0.3" stop-color="#a83c90" stop-opacity="0.92"/><stop offset="0.65" stop-color="#cf8dbd" stop-opacity="0.6"/><stop offset="1" stop-color="#f3dcec" stop-opacity="0"/></radialGradient><radialGradient id="glow2"><stop offset="0" stop-color="#7a1c66"/><stop offset="0.5" stop-color="#b45a9f" stop-opacity="0.85"/><stop offset="1" stop-color="#eac8e0" stop-opacity="0"/></radialGradient><linearGradient id="redp" x1="0" x2="1"><stop offset="0" stop-color="#f8b0b0"/><stop offset="0.5" stop-color="#e8141c"/><stop offset="1" stop-color="#f8b0b0"/></linearGradient><linearGradient id="blup" x1="0" x2="1"><stop offset="0" stop-color="#a8e4fb"/><stop offset="0.5" stop-color="#0c8fe0"/><stop offset="1" stop-color="#a8e4fb"/></linearGradient></defs>
<rect x="405.4" y="287.8" width="106.8" height="5.6" fill="#4b4b4d"/>
<rect x="412" y="284.6" width="91" height="3.2" fill="#f4f0ee"/>
<rect x="418.7" y="284.4" width="8.8" height="3.4" fill="url(#redp)"/>
<rect x="448.8" y="284.4" width="10.6" height="3.4" fill="url(#redp)"/>
<rect x="483.7" y="284.4" width="6.1" height="3.4" fill="url(#redp)"/>
<rect x="430.2" y="284.4" width="9.2" height="3.4" fill="url(#blup)"/>
<rect x="467.6" y="284.4" width="7.0" height="3.4" fill="url(#blup)"/>
<path d="M449,243.5 C443,250 436,262 434.6,281" fill="none" stroke="#c9c3ee" stroke-width="0.9"/>
<path d="M464,243.5 C468,250 470.4,262 470.6,281" fill="none" stroke="#c9c3ee" stroke-width="0.9"/>
<circle cx="456.8" cy="243" r="11.5" fill="url(#glow)"/>
<g fill="none" stroke="#111" stroke-width="0.95" stroke-dasharray="1.3 1.9">
<path d="M456.8,242.6 A44.0,44 0 0 0 412.8,286.6"/>
<path d="M456.8,242.6 A25.3,44 0 0 0 431.5,286.6"/>
<path d="M456.8,242.6 A14.0,44 0 0 0 442.8,286.6"/>
<path d="M456.8,242.6 A7.4,44 0 0 0 449.4,286.6"/>
<path d="M456.8,242.6 A2.3,44 0 0 0 454.5,286.6"/>
<path d="M456.8,242.6 A2.9,44 0 0 1 459.7,286.6"/>
<path d="M456.8,242.6 A7.3,44 0 0 1 464.1,286.6"/>
<path d="M456.8,242.6 A13.4,44 0 0 1 470.2,286.6"/>
<path d="M456.8,242.6 A20.6,44 0 0 1 477.4,286.6"/>
<path d="M456.8,242.6 A27.9,44 0 0 1 484.7,286.6"/>
<path d="M456.8,242.6 A45.0,44 0 0 1 501.8,286.6"/>
</g>
<path d="M421.2,260.7 L422.5,256.2 L425.3,258.4 Z" fill="#111"/>
<path d="M434.2,266.6 L433.9,261.8 L437.3,263.0 Z" fill="#111"/>
<path d="M444.1,267.7 L443.1,263.0 L446.7,263.6 Z" fill="#111"/>
<path d="M450.1,267.7 L448.7,263.1 L452.3,263.5 Z" fill="#111"/>
<path d="M454.7,267.7 L453.0,263.2 L456.6,263.4 Z" fill="#111"/>
<path d="M459.4,267.7 L457.5,263.4 L461.1,263.2 Z" fill="#111"/>
<path d="M463.4,267.7 L461.2,263.5 L464.8,263.1 Z" fill="#111"/>
<path d="M466.6,256.6 L463.6,253.0 L467.0,251.9 Z" fill="#111"/>
<path d="M472.9,259.0 L469.5,255.7 L472.8,254.3 Z" fill="#111"/>
<path d="M475.4,253.7 L471.3,251.4 L474.1,249.2 Z" fill="#111"/>
<path d="M487.0,253.9 L482.4,252.5 L484.6,249.7 Z" fill="#111"/>
<path d="M452.5,242.2 h8.6" stroke="#333" stroke-width="0.9"/>
<circle cx="434.2" cy="282.4" r="4.2" fill="url(#glow2)"/>
<circle cx="470.4" cy="282.4" r="4.2" fill="url(#glow2)"/>
<path d="M446.2,230.4 h4.0 M448.2,228.4 v4.0" stroke="#ff2a3a" stroke-width="0.9" fill="none"/>
<path d="M462.0,230.4 h4.0 M464.0,228.4 v4.0" stroke="#ff2a3a" stroke-width="0.9" fill="none"/>
<path d="M442.3,240.8 h4.0 M444.3,238.8 v4.0" stroke="#ff2a3a" stroke-width="0.9" fill="none"/>
<path d="M468.0,240.0 h4.0 M470.0,238.0 v4.0" stroke="#ff2a3a" stroke-width="0.9" fill="none"/>
<path d="M444.5,249.4 h4.0 M446.5,247.4 v4.0" stroke="#ff2a3a" stroke-width="0.9" fill="none"/>
<path d="M467.3,249.4 h4.0 M469.3,247.4 v4.0" stroke="#ff2a3a" stroke-width="0.9" fill="none"/>
<path d="M417.8,282.0 h3.2 M419.4,280.4 v3.2" stroke="#ff2a3a" stroke-width="0.9" fill="none"/>
<path d="M423.7,282.0 h3.2 M425.3,280.4 v3.2" stroke="#ff2a3a" stroke-width="0.9" fill="none"/>
<path d="M448.7,282.0 h3.2 M450.3,280.4 v3.2" stroke="#ff2a3a" stroke-width="0.9" fill="none"/>
<path d="M455.4,282.0 h3.2 M457.0,280.4 v3.2" stroke="#ff2a3a" stroke-width="0.9" fill="none"/>
<path d="M480.6,282.0 h3.2 M482.2,280.4 v3.2" stroke="#ff2a3a" stroke-width="0.9" fill="none"/>
<path d="M486.4,282.0 h3.2 M488.0,280.4 v3.2" stroke="#ff2a3a" stroke-width="0.9" fill="none"/>
<path d="M-1.6,0 h3.2" transform="translate(429.0,280.3) rotate(25)" stroke="#19b5f0" stroke-width="1"/>
<path d="M-1.6,0 h3.2" transform="translate(433.2,277.0) rotate(0)" stroke="#19b5f0" stroke-width="1"/>
<path d="M-1.6,0 h3.2" transform="translate(438.6,277.0) rotate(0)" stroke="#19b5f0" stroke-width="1"/>
<path d="M-1.6,0 h3.2" transform="translate(440.9,282.2) rotate(-20)" stroke="#19b5f0" stroke-width="1"/>
<path d="M-1.6,0 h3.2" transform="translate(466.0,280.3) rotate(25)" stroke="#19b5f0" stroke-width="1"/>
<path d="M-1.6,0 h3.2" transform="translate(469.3,277.0) rotate(0)" stroke="#19b5f0" stroke-width="1"/>
<path d="M-1.6,0 h3.2" transform="translate(474.4,277.0) rotate(0)" stroke="#19b5f0" stroke-width="1"/>
<path d="M-1.6,0 h3.2" transform="translate(476.6,282.2) rotate(-20)" stroke="#19b5f0" stroke-width="1"/>
<path d="M413.5,222.4 L443.7,234.4" stroke="#111" stroke-width="1.00" fill="none"/><path d="M448.5,236.3 L442.9,236.3 L444.4,232.4 Z" fill="#111"/>
<path d="M456.8,215.4 L456.8,234.3" stroke="#111" stroke-width="1.00" fill="none"/><path d="M456.8,239.5 L454.7,234.3 L458.9,234.3 Z" fill="#111"/>
<path d="M403.2,245.0 L420.4,251.6" stroke="#111" stroke-width="1.00" fill="none"/><path d="M425.3,253.4 L419.7,253.5 L421.2,249.6 Z" fill="#111"/>
<path d="M395.0,268.7 L405.3,282.3" stroke="#111" stroke-width="1.00" fill="none"/><path d="M408.4,286.4 L403.6,283.5 L406.9,281.0 Z" fill="#111"/>
<path d="M495.7,232.4 L442.2,259.2" stroke="#111" stroke-width="1.00" fill="none"/><path d="M437.6,261.5 L441.3,257.3 L443.2,261.0 Z" fill="#111"/>
<path d="M495.7,232.4 L473.9,251.6" stroke="#111" stroke-width="1.00" fill="none"/><path d="M470.0,255.0 L472.5,250.0 L475.3,253.1 Z" fill="#111"/>
<path d="M497.4,256.3 L446.8,275.9" stroke="#111" stroke-width="1.00" fill="none"/><path d="M442.0,277.8 L446.1,274.0 L447.6,277.9 Z" fill="#111"/>
<path d="M497.4,256.3 L478.2,276.5" stroke="#111" stroke-width="1.00" fill="none"/><path d="M474.6,280.3 L476.7,275.1 L479.7,278.0 Z" fill="#111"/>
<path d="M511.0,276.3 L496.5,281.5" stroke="#111" stroke-width="1.00" fill="none"/><path d="M491.6,283.2 L495.8,279.5 L497.2,283.4 Z" fill="#111"/>
<text x="428.0" y="211.9" style="font-size:8.4px;fill:#222" textLength="63.3" lengthAdjust="spacingAndGlyphs">Wire Electrode (+)</text>
<text x="378.2" y="220.7" style="font-size:8.4px;fill:#222" textLength="41.8" lengthAdjust="spacingAndGlyphs">Active Zone</text>
<text x="378.2" y="228.8" style="font-size:8.4px;fill:#222" textLength="27.8" lengthAdjust="spacingAndGlyphs">(Purple)</text>
<text x="378.2" y="243.0" style="font-size:8.4px;fill:#222" textLength="36.8" lengthAdjust="spacingAndGlyphs">Field Lines</text>
<text x="378.2" y="257.3" style="font-size:8.4px;fill:#222" textLength="17.0" lengthAdjust="spacingAndGlyphs">Plate</text>
<text x="378.2" y="266.1" style="font-size:8.4px;fill:#222" textLength="33.1" lengthAdjust="spacingAndGlyphs">Electrode</text>
<text x="378.2" y="275.0" style="font-size:8.4px;fill:#222" textLength="8.2" lengthAdjust="spacingAndGlyphs">(–)</text>
<text x="498.7" y="231.9" style="font-size:8.4px;fill:#222" textLength="36.0" lengthAdjust="spacingAndGlyphs">Streamers</text>
<text x="498.7" y="244.8" style="font-size:8.4px;fill:#222" textLength="19.1" lengthAdjust="spacingAndGlyphs">Back-</text>
<text x="498.7" y="253.4" style="font-size:8.4px;fill:#222" textLength="26.0" lengthAdjust="spacingAndGlyphs">Corona</text>
<text x="506.5" y="265.0" style="font-size:8.4px;fill:#222" textLength="41.0" lengthAdjust="spacingAndGlyphs">Melt-blown</text>
<text x="506.5" y="274.2" style="font-size:8.4px;fill:#222" textLength="30.0" lengthAdjust="spacingAndGlyphs">Medium</text>
</g>
</svg></body></html>
